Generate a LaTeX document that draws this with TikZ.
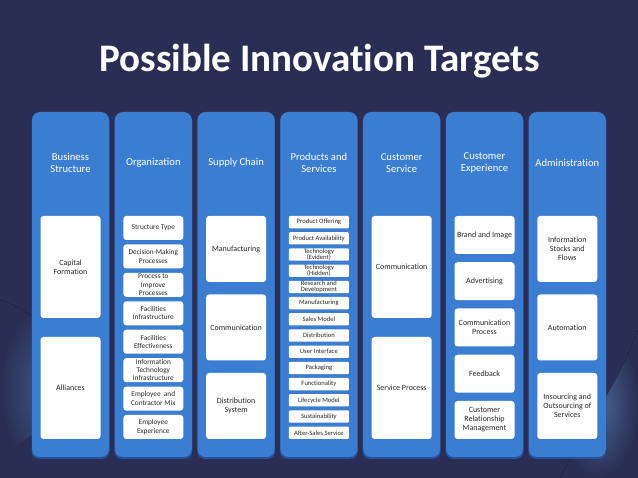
\documentclass[tikz,border=0pt]{standalone}
\usepackage{fontspec}
\setmainfont[Ligatures=NoCommon]{Carlito}
\definecolor{bgnavy}{RGB}{42,46,84}
\definecolor{bglight}{RGB}{70,100,145}
\definecolor{colblue}{RGB}{59,125,208}
\definecolor{coldark}{RGB}{36,84,160}
\definecolor{boxtext}{RGB}{40,40,40}
\begin{document}
\begin{tikzpicture}[x=1pt,y=-1pt,
  colbox/.style={fill=colblue, rounded corners=8pt, minimum width=77pt, minimum height=345pt, inner sep=0pt},
  colshadow/.style={fill=coldark, rounded corners=8pt, minimum width=78pt, minimum height=346pt, inner sep=0pt},
  hdr/.style={text=white, font=\fontsize{10.6}{12}\selectfont, align=center},
  item/.style={fill=white, rounded corners=3pt, text=boxtext, align=center, inner sep=0pt, minimum width=60pt},
  big/.style={item, font=\fontsize{8}{9}\selectfont},
  mid/.style={item, font=\fontsize{7.3}{8.3}\selectfont, minimum height=24pt},
  tiny/.style={item, font=\fontsize{6.6}{6.2}\selectfont, minimum height=12.3pt, rounded corners=1pt}
]
\useasboundingbox (0,0) rectangle (638,478);
\fill[bgnavy] (0,0) rectangle (638,478);
\fill[inner color=bglight, outer color=bgnavy] (0,300) .. controls (60,320) and (90,380) .. (120,478) -- (0,478) -- cycle;
\fill[bgnavy] (0,460) .. controls (40,420) and (90,410) .. (140,420) -- (140,478) -- (0,478) -- cycle;
\fill[inner color=bglight, outer color=bgnavy] (560,478) .. controls (590,420) and (620,380) .. (638,330) -- (638,478) -- cycle;

\node[font=\bfseries\fontsize{39}{46}\selectfont, text=white, anchor=base] (title) at (319.5,72) {Possible Innovation Targets};

% columns
\foreach \i/\cx in {1/70.5,2/153.3,3/236.1,4/318.9,5/401.7,6/484.5,7/567.3}{
  \node[colshadow] (s\i) at (\cx,286) {};
  \node[colbox] (c\i) at (\cx,284.5) {};
}

% headers
\node[hdr] (h1) at (70.5,163) {Business\\Structure};
\node[hdr] (h2) at (153.3,163) {Organization};
\node[hdr] (h3) at (236.1,163) {Supply Chain};
\node[hdr] (h4) at (318.9,163) {Products and\\Services};
\node[hdr] (h5) at (401.7,163) {Customer\\Service};
\node[hdr] (h6) at (484.5,163) {Customer\\Experience};
\node[hdr] (h7) at (567.3,163) {Administration};

% column 1
\node[big, minimum height=102pt] (b11) at (70.5,267) {Capital\\Formation};
\node[big, minimum height=102pt] (b12) at (70.5,388) {Alliances};

% column 2
\node[mid] (b21) at (153.3,228) {Structure Type};
\node[mid] (b22) at (153.3,256.43) {Decision-Making\\Processes};
\node[mid] (b23) at (153.3,284.86) {Process to\\Improve\\Processes};
\node[mid] (b24) at (153.3,313.29) {Facilities\\Infrastructure};
\node[mid] (b25) at (153.3,341.72) {Facilities\\Effectiveness};
\node[mid] (b26) at (153.3,370.15) {Information\\Technology\\Infrastructure};
\node[mid] (b27) at (153.3,398.58) {Employee~ and\\Contractor Mix};
\node[mid] (b28) at (153.3,427) {Employee\\Experience};

% column 3
\node[big, minimum height=66pt] (b31) at (236.1,249) {Manufacturing};
\node[big, minimum height=66pt] (b32) at (236.1,327.5) {Communication};
\node[big, minimum height=66pt] (b33) at (236.1,406) {Distribution\\System};

% column 4
\foreach \k/\t in {0/Product Offering,1/Product Availability,2/{Technology\\(Evident)},3/{Technology\\(Hidden)},4/{Research and\\Development},5/Manufacturing,6/Sales Model,7/Distribution,8/User Interface,9/Packaging,10/Functionality,11/Lifecycle Model,12/Sustainability,13/After-Sales Service}{
  \node[tiny] (b4\k) at (318.9,222.15+16.2*\k) {\t};
}

% column 5
\node[big, minimum height=102pt] (b51) at (401.7,267) {Communication};
\node[big, minimum height=102pt] (b52) at (401.7,388) {Service Process};

% column 6
\node[big, minimum height=38pt] (b61) at (484.5,235) {Brand and Image};
\node[big, minimum height=38pt] (b62) at (484.5,281.25) {Advertising};
\node[big, minimum height=38pt] (b63) at (484.5,327.5) {Communication\\Process};
\node[big, minimum height=38pt] (b64) at (484.5,373.75) {Feedback};
\node[big, minimum height=38pt] (b65) at (484.5,420) {Customer\\Relationship\\Management};

% column 7
\node[big, minimum height=66pt] (b71) at (567.3,249) {Information\\Stocks and\\Flows};
\node[big, minimum height=66pt] (b72) at (567.3,327.5) {Automation};
\node[big, minimum height=66pt] (b73) at (567.3,406) {Insourcing and\\Outsourcing of\\Services};
\end{tikzpicture}
\end{document}
